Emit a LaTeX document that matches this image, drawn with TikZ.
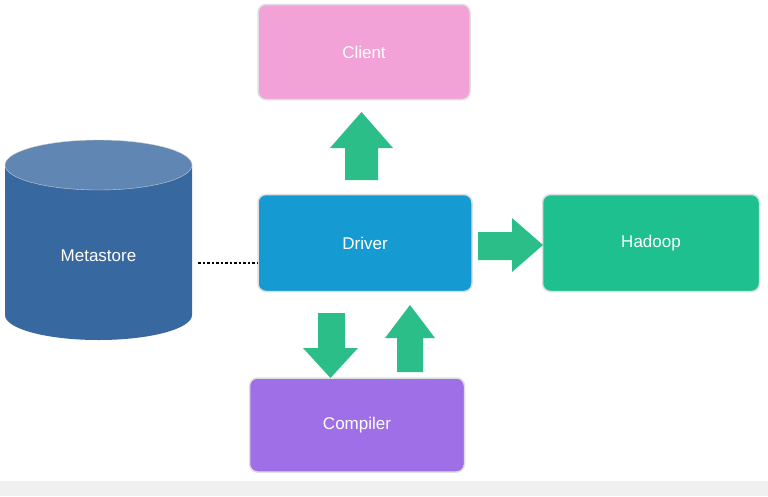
\documentclass[tikz,border=0pt]{standalone}
\usepackage{fontspec}
\setmainfont{Liberation Sans}
\usetikzlibrary{shapes.geometric}
\definecolor{pinkc}{HTML}{F2A2D6}
\definecolor{bluec}{HTML}{169AD2}
\definecolor{greenc}{HTML}{1DC08E}
\definecolor{purplec}{HTML}{9E6FE6}
\definecolor{metac}{HTML}{3868A0}
\definecolor{arrc}{HTML}{2BBE88}
\begin{document}
\begin{tikzpicture}[x=1pt,y=-1pt,
  box/.style={draw=gray!25,line width=1.5pt,rounded corners=8pt,text=white,font=\fontsize{17}{20}\selectfont},
  blk/.style={fill=arrc,draw=none}]
\useasboundingbox (0,0) rectangle (768,496);
\fill[white] (0,0) rectangle (768,496);
\fill[gray!12] (0,481) rectangle (768,496);
\node[box,fill=pinkc,minimum width=212pt,minimum height=95pt] (client) at (364,52) {Client};
\node[box,fill=bluec,minimum width=214pt,minimum height=97pt] (driver) at (365,243) {Driver};
\node[box,fill=greenc,minimum width=217pt,minimum height=97pt] (hadoop) at (651,243) {Hadoop};
\node[box,fill=purplec,minimum width=215pt,minimum height=94pt] (compiler) at (357,425) {Compiler};
% metastore
\fill[metac] (5,165) -- (5,315) arc[x radius=93.5pt,y radius=25pt,start angle=180,end angle=360] -- (192,165) -- cycle;
\fill[metac!80!white] (98.5,165) ellipse[x radius=93.5pt,y radius=25pt];
\draw[gray!40] (98.5,165) ellipse[x radius=93.5pt,y radius=25pt];
\node[text=white,font=\fontsize{17}{20}\selectfont] (meta) at (98.5,256) {Metastore};
\coordinate (mr) at (198,263);
\draw[line width=2.5pt,dotted] (mr) -- (driver.west |- mr);
% arrows
\fill[blk] (345,180) -- (345,148) -- (330,148) -- (361.5,112) -- (393,148) -- (378,148) -- (378,180) -- cycle;
\fill[blk] (478,232) -- (512,232) -- (512,218) -- (543,245) -- (512,272) -- (512,260) -- (478,260) -- cycle;
\fill[blk] (318,313) -- (345,313) -- (345,348) -- (358,348) -- (330.5,378) -- (303,348) -- (318,348) -- cycle;
\fill[blk] (397,372) -- (397,338) -- (385,338) -- (410,305) -- (435,338) -- (423,338) -- (423,372) -- cycle;
\end{tikzpicture}
\end{document}
